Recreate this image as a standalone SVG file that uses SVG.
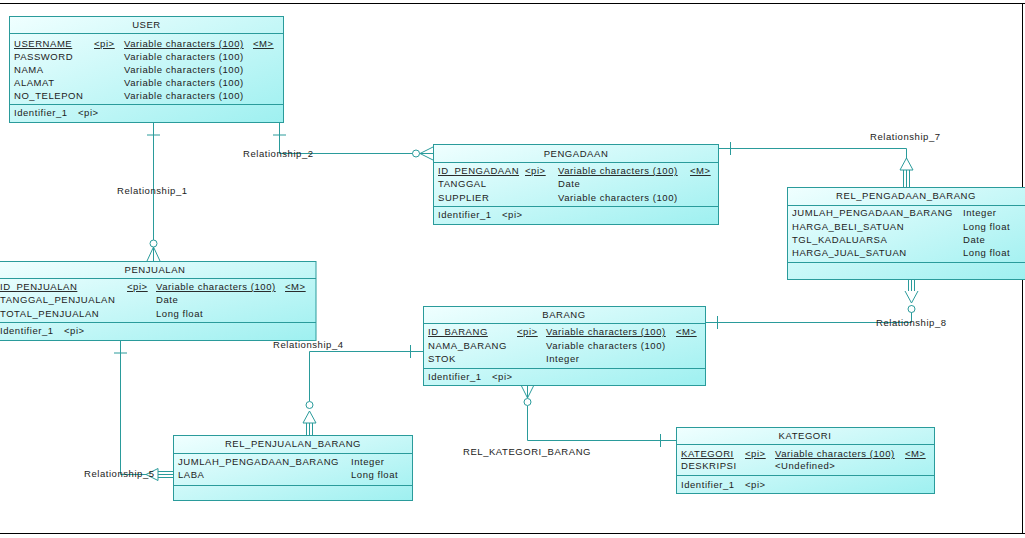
<svg xmlns="http://www.w3.org/2000/svg" width="1025" height="538" viewBox="0 0 1025 538">
<defs>
<linearGradient id="g" x1="0" y1="0" x2="1" y2="1"><stop offset="0" stop-color="#f0ffff"/><stop offset="1" stop-color="#9ef0f0"/></linearGradient>
</defs>
<style>
.b{fill:url(#g);stroke:#2a9b9b;stroke-width:1}
.l{stroke:#2a9b9b;stroke-width:1;fill:none}
.w{stroke:#2a9b9b;stroke-width:1;fill:#fff}
text{font-family:"Liberation Sans",Arial,sans-serif;font-size:9.5px;fill:#222;letter-spacing:0.55px}
.c{text-anchor:middle}
.u{text-decoration:underline}
</style>
<rect width="1025" height="538" fill="#fff"/>
<line x1="0" y1="3.5" x2="1025" y2="3.5" stroke="#000"/>
<line x1="0" y1="533.5" x2="1025" y2="533.5" stroke="#000"/>
<line x1="1022.5" y1="3" x2="1022.5" y2="534" stroke="#000"/>
<g id="connectors">
<path class="l" d="M153.5 122V261M147 135H160M147 261L153.5 247L160 261M153.5 247V261"/>
<circle class="w" cx="153.5" cy="243.5" r="3.5"/>
<text x="117" y="194">Relationship_1</text>
<path class="l" d="M279.5 122V153.5H433M273 135H286M433 147L420 153.5L433 160"/>
<circle class="w" cx="416" cy="153.5" r="3.5"/>
<text x="243" y="157">Relationship_2</text>
<path class="l" d="M718 148.5H906.5V159M730.5 142V155M900 170L906.5 158L913 170ZM903.5 170V187M906.5 170V187M909.5 170V187"/>
<text x="870" y="140">Relationship_7</text>
<path class="l" d="M911.5 305V322.5H705M717.5 316V329M905 291L911.5 303L918 291M908.5 279V291M911.5 279V291M914.5 279V291"/>
<circle class="w" cx="911.5" cy="309" r="3.5"/>
<text x="876" y="326">Relationship_8</text>
<path class="l" d="M423 351.5H309.5V401M410.5 345V358M303 423L309.5 411L316 423ZM306.5 423V435M309.5 423V435M312.5 423V435"/>
<circle class="w" cx="309.5" cy="405" r="3.5"/>
<text x="273" y="348">Relationship_4</text>
<path class="l" d="M120.5 340V474.5H146M114 353H127M158 468.5L146 474.5L158 480.5ZM158 471.5H173M158 474.5H173M158 477.5H173"/>
<text x="84" y="477">Relationship_5</text>
<path class="l" d="M527.5 406V440.5H676M660.5 434V447M521 385L527.5 398L534 385M527.5 385V398"/>
<circle class="w" cx="527.5" cy="402" r="3.5"/>
<text x="463" y="455">REL_KATEGORI_BARANG</text>
</g>
<g id="USER">
<rect class="b" x="9.5" y="16.5" width="274" height="106"/>
<path class="l" d="M9.5 33.5H283.5M9.5 104.5H283.5"/>
<text class="c" x="146.5" y="28">USER</text>
<text x="14" y="47" class="u">USERNAME</text><text x="94" y="47" class="u">&lt;pi&gt;</text><text x="124" y="47" class="u">Variable characters (100)</text><text x="253" y="47" class="u">&lt;M&gt;</text>
<text x="14" y="60">PASSWORD</text><text x="124" y="60">Variable characters (100)</text>
<text x="14" y="73">NAMA</text><text x="124" y="73">Variable characters (100)</text>
<text x="14" y="86">ALAMAT</text><text x="124" y="86">Variable characters (100)</text>
<text x="14" y="99">NO_TELEPON</text><text x="124" y="99">Variable characters (100)</text>
<text x="14" y="116">Identifier_1</text><text x="78" y="116">&lt;pi&gt;</text>
</g>
<g id="PENGADAAN">
<rect class="b" x="433.5" y="144.5" width="285" height="80"/>
<path class="l" d="M433.5 162.5H718.5M433.5 206.5H718.5"/>
<text class="c" x="576" y="157">PENGADAAN</text>
<text x="438" y="174" class="u">ID_PENGADAAN</text><text x="525" y="174" class="u">&lt;pi&gt;</text><text x="558" y="174" class="u">Variable characters (100)</text><text x="690" y="174" class="u">&lt;M&gt;</text>
<text x="438" y="187">TANGGAL</text><text x="558" y="187">Date</text>
<text x="438" y="201">SUPPLIER</text><text x="558" y="201">Variable characters (100)</text>
<text x="438" y="218">Identifier_1</text><text x="502" y="218">&lt;pi&gt;</text>
</g>
<g id="REL_PENGADAAN_BARANG">
<rect class="b" x="787.5" y="187.5" width="240" height="92"/>
<path class="l" d="M787.5 205.5H1025M787.5 262.5H1025"/>
<text class="c" x="906" y="199">REL_PENGADAAN_BARANG</text>
<text x="792" y="216">JUMLAH_PENGADAAN_BARANG</text><text x="963" y="216">Integer</text>
<text x="792" y="230">HARGA_BELI_SATUAN</text><text x="963" y="230">Long float</text>
<text x="792" y="243">TGL_KADALUARSA</text><text x="963" y="243">Date</text>
<text x="792" y="256">HARGA_JUAL_SATUAN</text><text x="963" y="256">Long float</text>
</g>
<g id="PENJUALAN">
<rect class="b" x="-1" y="261.5" width="317" height="79"/>
<path class="l" d="M-1 278.5H316M-1 322.5H316"/>
<text class="c" x="155" y="273">PENJUALAN</text>
<text x="0" y="290" class="u">ID_PENJUALAN</text><text x="127" y="290" class="u">&lt;pi&gt;</text><text x="156" y="290" class="u">Variable characters (100)</text><text x="285" y="290" class="u">&lt;M&gt;</text>
<text x="0" y="303">TANGGAL_PENJUALAN</text><text x="156" y="303">Date</text>
<text x="0" y="317">TOTAL_PENJUALAN</text><text x="156" y="317">Long float</text>
<text x="0" y="334">Identifier_1</text><text x="64" y="334">&lt;pi&gt;</text>
</g>
<g id="BARANG">
<rect class="b" x="423.5" y="306.5" width="282" height="79"/>
<path class="l" d="M423.5 323.5H705.5M423.5 368.5H705.5"/>
<text class="c" x="564" y="318">BARANG</text>
<text x="428" y="335" class="u">ID_BARANG</text><text x="517" y="335" class="u">&lt;pi&gt;</text><text x="546" y="335" class="u">Variable characters (100)</text><text x="676" y="335" class="u">&lt;M&gt;</text>
<text x="428" y="349">NAMA_BARANG</text><text x="546" y="349">Variable characters (100)</text>
<text x="428" y="362">STOK</text><text x="546" y="362">Integer</text>
<text x="428" y="380">Identifier_1</text><text x="492" y="380">&lt;pi&gt;</text>
</g>
<g id="REL_PENJUALAN_BARANG">
<rect class="b" x="173.5" y="435.5" width="239" height="65"/>
<path class="l" d="M173.5 453.5H412.5M173.5 485.5H412.5"/>
<text class="c" x="293" y="447">REL_PENJUALAN_BARANG</text>
<text x="178" y="465">JUMLAH_PENGADAAN_BARANG</text><text x="351" y="465">Integer</text>
<text x="178" y="478">LABA</text><text x="351" y="478">Long float</text>
</g>
<g id="KATEGORI">
<rect class="b" x="676.5" y="427.5" width="258" height="66"/>
<path class="l" d="M676.5 444.5H934.5M676.5 475.5H934.5"/>
<text class="c" x="805" y="439">KATEGORI</text>
<text x="681" y="457" class="u">KATEGORI</text><text x="745" y="457" class="u">&lt;pi&gt;</text><text x="775" y="457" class="u">Variable characters (100)</text><text x="905" y="457" class="u">&lt;M&gt;</text>
<text x="681" y="469">DESKRIPSI</text><text x="775" y="469">&lt;Undefined&gt;</text>
<text x="681" y="488">Identifier_1</text><text x="745" y="488">&lt;pi&gt;</text>
</g>
</svg>
